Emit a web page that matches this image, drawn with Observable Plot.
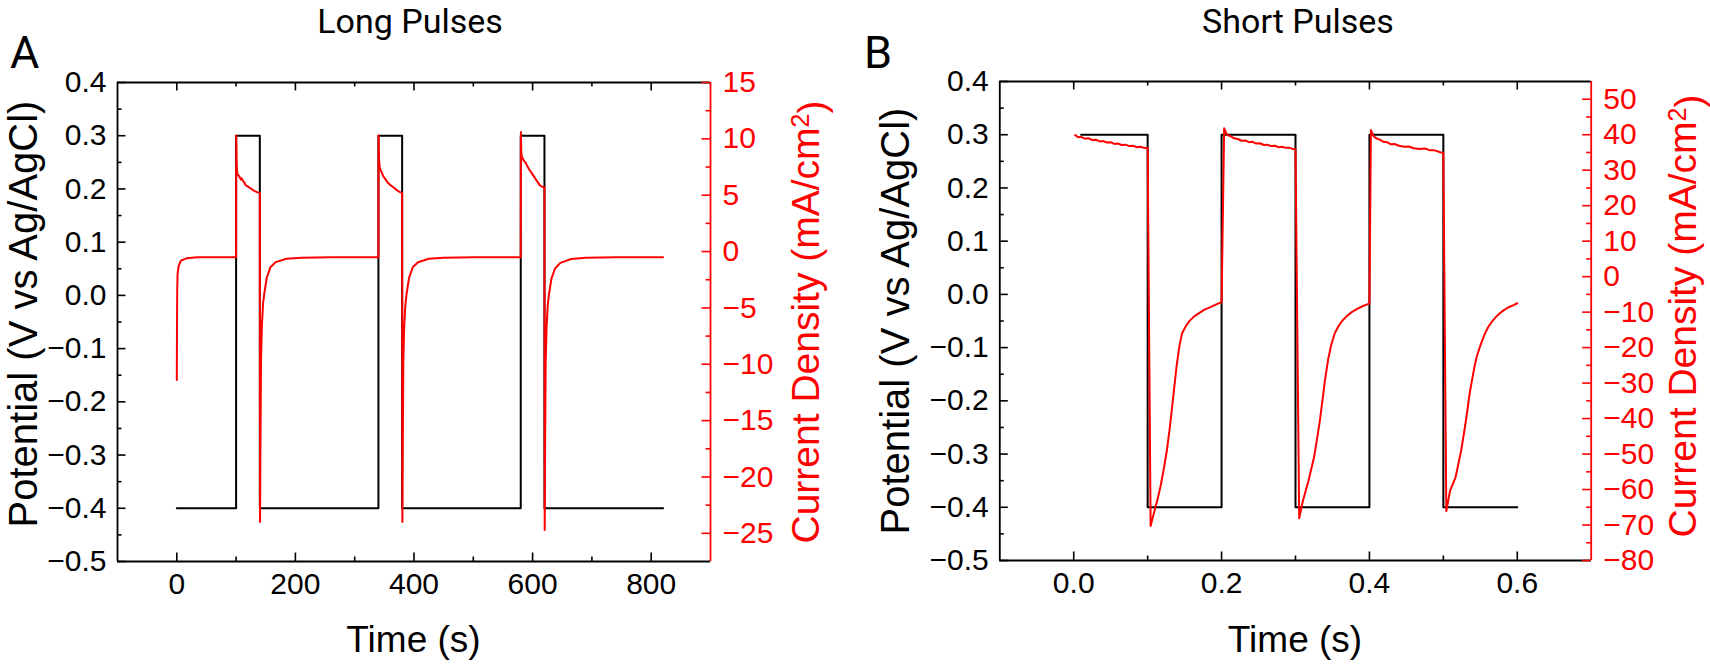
<!DOCTYPE html>
<html>
<head>
<meta charset="utf-8">
<script src="https://cdn.jsdelivr.net/npm/d3@7"></script>
<script src="https://cdn.jsdelivr.net/npm/@observablehq/plot@0.6"></script>
<style>
  html, body { margin: 0; padding: 0; background: #fff; }
  #chart { position: relative; width: 1710px; height: 666px; overflow: hidden; background: #fff; }
  #chart > svg { position: absolute; top: 0; }
</style>
</head>
<body>
<div id="chart"></div>
<script>
// ---- Long pulses (panel A) ----
// applied potential, V vs Ag/AgCl
const longPotentialTime = [0, 100, 100, 140, 140, 340, 340, 380, 380, 580, 580, 620, 620, 820];
const longPotential     = [-0.4, -0.4, 0.3, 0.3, -0.4, -0.4, 0.3, 0.3, -0.4, -0.4, 0.3, 0.3, -0.4, -0.4];
// measured current density, mA/cm²
const longCurrentTime = [
  0, 0.3, 0.7, 1.3, 3, 7, 16, 35, 100,
  100.3, 101, 102, 105, 108, 109.5, 111, 113, 116, 122, 130, 136, 140,
  140.4, 141.1, 142, 143.5, 145.5, 147.6, 151.8, 157.8, 166.8, 185, 210, 260, 340,
  340.3, 341, 342, 345, 348, 352, 356, 360, 365, 371, 377, 380,
  380.4, 381.1, 382, 383.5, 385.5, 387.6, 391.8, 397.8, 406.8, 425, 450, 500, 580,
  580.3, 581, 582, 585, 588, 591, 594, 598, 603, 608, 612, 616, 620,
  620.4, 621.1, 622, 623.5, 625.5, 627.6, 631.8, 637.8, 646.8, 665, 690, 740, 820
];
const longCurrent = [
  -11.4, -7.0, -3.5, -2.0, -1.3, -0.8, -0.6, -0.5, -0.5,
  10.3, 7.6, 6.9, 6.7, 6.4, 6.5, 6.3, 6.2, 5.9, 5.7, 5.4, 5.25, 5.2,
  -24.0, -17.0, -9.6, -6.5, -4.6, -3.7, -2.3, -1.4, -0.94, -0.64, -0.55, -0.5, -0.5,
  10.3, 8.2, 7.5, 7.1, 6.7, 6.4, 6.1, 5.9, 5.7, 5.45, 5.25, 5.2,
  -24.0, -17.2, -9.8, -6.6, -4.7, -3.7, -2.3, -1.4, -0.95, -0.64, -0.55, -0.5, -0.5,
  10.6, 8.8, 8.4, 8.1, 7.9, 7.6, 7.3, 7.0, 6.6, 6.2, 5.9, 5.75, 5.7,
  -24.7, -17.5, -10.0, -6.8, -4.8, -3.8, -2.4, -1.5, -1.0, -0.66, -0.56, -0.5, -0.5
];

// ---- Short pulses (panel B) ----
const shortPotentialTime = [0.01, 0.1, 0.1, 0.2, 0.2, 0.3, 0.3, 0.4, 0.4, 0.5, 0.5, 0.6];
const shortPotential     = [0.3, 0.3, -0.4, -0.4, 0.3, 0.3, -0.4, -0.4, 0.3, 0.3, -0.4, -0.4];
const shortCurrentTime = [
  0.002, 0.006, 0.01, 0.015, 0.02, 0.025, 0.03, 0.035, 0.04, 0.045, 0.05, 0.055, 0.06, 0.065, 0.07, 0.075, 0.08, 0.085, 0.09, 0.095, 0.1,
  0.104, 0.108, 0.1135, 0.1175, 0.1213, 0.126, 0.13, 0.134, 0.139, 0.143, 0.1465, 0.152, 0.157, 0.163, 0.17, 0.177, 0.185, 0.192, 0.2,
  0.2035, 0.2075, 0.212, 0.217, 0.222, 0.227, 0.232, 0.237, 0.242, 0.247, 0.252, 0.257, 0.262, 0.267, 0.272, 0.277, 0.282, 0.287, 0.292, 0.297, 0.3,
  0.305, 0.31, 0.3175, 0.325, 0.329, 0.333, 0.337, 0.34, 0.344, 0.348, 0.353, 0.358, 0.363, 0.368, 0.376, 0.384, 0.392, 0.4,
  0.402, 0.406, 0.409, 0.414, 0.419, 0.424, 0.429, 0.434, 0.44, 0.447, 0.453, 0.46, 0.468, 0.475, 0.482, 0.488, 0.494, 0.498, 0.5,
  0.504, 0.509, 0.5165, 0.524, 0.528, 0.532, 0.5355, 0.5385, 0.542, 0.5452, 0.5504, 0.5555, 0.5607, 0.566, 0.571, 0.576, 0.5814, 0.5875, 0.5943, 0.6
];
const shortCurrent = [
  39.9, 39.3, 39.4, 38.9, 39.0, 38.5, 38.6, 38.1, 38.2, 37.8, 37.9, 37.4, 37.5, 37.1, 37.2, 36.8, 36.9, 36.5, 36.6, 36.3, 36.2,
  -70.3, -67.0, -62.7, -59.0, -54.8, -49.0, -42.5, -35.0, -25.5, -19.5, -16.0, -13.8, -12.4, -11.2, -10.2, -9.3, -8.6, -7.9, -7.2,
  41.8, 39.9, 39.6, 39.0, 38.8, 38.3, 38.4, 37.9, 38.0, 37.5, 37.6, 37.1, 37.2, 36.8, 36.9, 36.5, 36.6, 36.3, 36.3, 35.95, 35.9,
  -68.1, -63.2, -57.6, -51.0, -46.0, -40.5, -34.0, -29.0, -23.5, -19.5, -16.0, -14.0, -12.5, -11.4, -10.0, -9.0, -8.2, -7.6,
  41.3, 39.5, 39.0, 38.6, 38.0, 37.9, 37.3, 37.4, 36.9, 36.6, 36.7, 36.2, 36.0, 36.1, 35.6, 35.6, 35.2, 34.9, 34.9,
  -66.1, -60.4, -56.6, -49.1, -44.0, -38.5, -33.0, -29.5, -25.5, -22.5, -19.2, -16.4, -14.2, -12.6, -11.4, -10.4, -9.5, -8.7, -8.1, -7.5
];

// ---- Axis ticks ----
const longTimeTicks  = [0, 200, 400, 600, 800];
const longTimeMinor  = [100, 300, 500, 700];
const shortTimeTicks = [0, 0.2, 0.4, 0.6];
const shortTimeMinor = [0.1, 0.3, 0.5];
const potentialTicks = [-0.5, -0.4, -0.3, -0.2, -0.1, 0, 0.1, 0.2, 0.3, 0.4];
const potentialMinor = [-0.45, -0.35, -0.25, -0.15, -0.05, 0.05, 0.15, 0.25, 0.35];
const longCurrentTicks  = [-25, -20, -15, -10, -5, 0, 5, 10, 15];
const longCurrentMinor  = [-22.5, -17.5, -12.5, -7.5, -2.5, 2.5, 7.5, 12.5];
const shortCurrentTicks = [-80, -70, -60, -50, -40, -30, -20, -10, 0, 10, 20, 30, 40, 50];
const shortCurrentMinor = [-75, -65, -55, -45, -35, -25, -15, -5, 5, 15, 25, 35, 45];

const RED = "#ff0000";
const TICK_FONT = "'Liberation Sans', Arial, sans-serif";
const chart = document.getElementById("chart");

// One panel = a potential plot (left axis) with a current plot laid over it (right axis).
function drawPanel(opt) {
  const W = opt.width, H = 666;
  const [fx0, fx1, fy0, fy1] = opt.frame;
  const fw = fx1 - fx0, fh = fy1 - fy0;
  const major = 8.5, minor = 4.5;
  const common = {
    width: W, height: H,
    marginLeft: fx0, marginRight: W - fx1, marginTop: fy0, marginBottom: H - fy1,
    style: { fontFamily: TICK_FONT, fontSize: "30px", background: "transparent", overflow: "visible" }
  };
  const potData = opt.potT.map((t, i) => ({ t, v: opt.potV[i] }));
  const curData = opt.curT.map((t, i) => ({ t, v: opt.curV[i] }));

  const base = Plot.plot({
    ...common,
    x: { domain: opt.xDomain },
    y: { domain: opt.vDomain },
    marks: [
      Plot.axisX({ anchor: "bottom", ticks: opt.xTicks, tickFormat: opt.xFormat, tickSize: 0, tickPadding: 11, label: null, fill: "#000" }),
      Plot.axisY({ anchor: "left", ticks: potentialTicks, tickFormat: d3.format(".1f"), tickSize: 0, tickPadding: 11, label: null, fill: "#000" }),
      // inward ticks on bottom, top and left
      Plot.tickX(opt.xTicks, { x: d => d, insetTop: fh - major, stroke: "#000", strokeWidth: 1.6 }),
      Plot.tickX(opt.xMinor, { x: d => d, insetTop: fh - minor, stroke: "#000", strokeWidth: 1.6 }),
      Plot.tickX(opt.xTicks, { x: d => d, insetBottom: fh - major, stroke: "#000", strokeWidth: 1.6 }),
      Plot.tickX(opt.xMinor, { x: d => d, insetBottom: fh - minor, stroke: "#000", strokeWidth: 1.6 }),
      Plot.tickY(potentialTicks, { y: d => d, insetRight: fw - major, stroke: "#000", strokeWidth: 1.6 }),
      Plot.tickY(potentialMinor, { y: d => d, insetRight: fw - minor, stroke: "#000", strokeWidth: 1.6 }),
      // frame: left, bottom, top
      Plot.ruleX([opt.xDomain[0]], { stroke: "#000", strokeWidth: 1.8 }),
      Plot.ruleY([opt.vDomain[0]], { stroke: "#000", strokeWidth: 1.8 }),
      Plot.ruleY([opt.vDomain[1]], { stroke: "#000", strokeWidth: 1.8 }),
      Plot.line(potData, { x: "t", y: "v", stroke: "#000", strokeWidth: 2 })
    ]
  });

  const over = Plot.plot({
    ...common,
    x: { domain: opt.xDomain, axis: null },
    y: { domain: opt.cDomain },
    marks: [
      Plot.axisY({ anchor: "right", ticks: opt.cTicks, tickFormat: d3.format("d"), tickSize: 0, tickPadding: 12, label: null, fill: RED }),
      Plot.tickY(opt.cTicks, { y: d => d, insetLeft: fw - major, stroke: RED, strokeWidth: 1.6 }),
      Plot.tickY(opt.cMinor, { y: d => d, insetLeft: fw - minor, stroke: RED, strokeWidth: 1.6 }),
      Plot.ruleX([opt.xDomain[1]], { stroke: RED, strokeWidth: 1.8 }),
      Plot.line(curData, { x: "t", y: "v", stroke: RED, strokeWidth: 2 })
    ]
  });

  for (const svg of [base, over]) {
    svg.style.left = opt.left + "px";
    chart.appendChild(svg);
  }
}

drawPanel({
  left: 0, width: 860, frame: [117, 710, 82, 561],
  xDomain: [-100, 900], xTicks: longTimeTicks, xMinor: longTimeMinor, xFormat: d3.format("d"),
  vDomain: [-0.5, 0.4], cDomain: [-27.5, 15], cTicks: longCurrentTicks, cMinor: longCurrentMinor,
  potT: longPotentialTime, potV: longPotential, curT: longCurrentTime, curV: longCurrent
});

drawPanel({
  left: 860, width: 850, frame: [139.3, 730.7, 81, 560],
  xDomain: [-0.1, 0.7], xTicks: shortTimeTicks, xMinor: shortTimeMinor, xFormat: d3.format(".1f"),
  vDomain: [-0.5, 0.4], cDomain: [-80, 55], cTicks: shortCurrentTicks, cMinor: shortCurrentMinor,
  potT: shortPotentialTime, potV: shortPotential, curT: shortCurrentTime, curV: shortCurrent
});

// Titles, panel letters and axis titles
const labels = d3.select(chart).append("svg")
  .attr("width", 1710).attr("height", 666)
  .style("left", "0px").style("pointer-events", "none");

const headFont = "Roboto, 'Open Sans', sans-serif";
labels.append("text").attr("x", 410).attr("y", 33).attr("text-anchor", "middle")
  .style("font-family", headFont).style("font-size", "34px").text("Long Pulses");
labels.append("text").attr("x", 1298).attr("y", 33).attr("text-anchor", "middle")
  .style("font-family", headFont).style("font-size", "34px").text("Short Pulses");
labels.append("text").attr("x", 10).attr("y", 68)
  .style("font-family", headFont).style("font-size", "45px").text("A");
labels.append("text").attr("x", 864).attr("y", 68)
  .style("font-family", headFont).style("font-size", "45px").text("B");

function xTitle(cx) {
  labels.append("text").attr("x", cx).attr("y", 652).attr("text-anchor", "middle")
    .style("font-family", TICK_FONT).style("font-size", "37px").text("Time (s)");
}
xTitle(413.5);
xTitle(1295);

function potentialTitle(bx, cy) {
  labels.append("text").attr("transform", `translate(${bx},${cy}) rotate(-90)`).attr("text-anchor", "middle")
    .style("font-family", TICK_FONT).style("font-size", "40px").text("Potential (V vs Ag/AgCl)");
}
potentialTitle(36.5, 314);
potentialTitle(909, 321);

function currentTitle(bx, cy) {
  const t = labels.append("text").attr("transform", `translate(${bx},${cy}) rotate(-90)`).attr("text-anchor", "middle")
    .style("font-family", TICK_FONT).style("font-size", "39px").attr("fill", RED);
  t.append("tspan").text("Current Density (mA/cm");
  t.append("tspan").attr("dy", "-0.42em").style("font-size", "25px").text("2");
  t.append("tspan").attr("dy", "0.42em").text(")");
}
currentTitle(819, 322);
currentTitle(1696, 316);
</script>
</body>
</html>
